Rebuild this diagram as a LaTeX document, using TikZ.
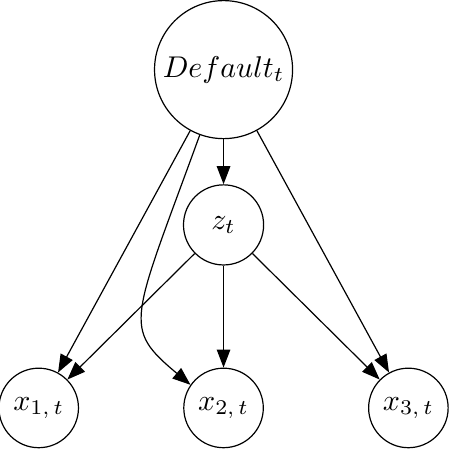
\documentclass[tikz,border=0pt]{standalone}
\usepackage{amsmath}
\usepackage{tikz}
\usetikzlibrary{arrows.meta, positioning, shapes.geometric}

\begin{document}
\begin{tikzpicture}[
            var/.style={circle, draw, inner sep=0pt, minimum size=26.5pt},
            node distance=15pt and 34.7pt,
            >={Triangle[length=6pt,width=4.5pt]}
        ]

        \useasboundingbox (0pt,0pt) rectangle (149.7pt,-150.3pt);

        \node[var, minimum size=46pt] (default) at (74.5pt,-23.2pt) {$Default_t$};
        \node[var, minimum size=26.7pt, below=of default] (z) {$z_t$};
        \node[var, below=34pt of z] (xtwo) {$x_{2,\,t}$};
        \node[var, left=of xtwo] (xone) {$x_{1,\,t}$};
        \node[var, right=of xtwo] (xthree) {$x_{3,\,t}$};

        \draw[->] (default) -- (z);
        \draw[->] (default) -- (xone);
        \draw[->] (default.250) .. controls +(250:66.7pt) and +(140:30pt) .. (xtwo.145);
        \draw[->] (default) -- (xthree);

        \draw[->] (z) -- (xone);
        \draw[->] (z) -- (xtwo);
        \draw[->] (z) -- (xthree);

    \end{tikzpicture}
\end{document}
